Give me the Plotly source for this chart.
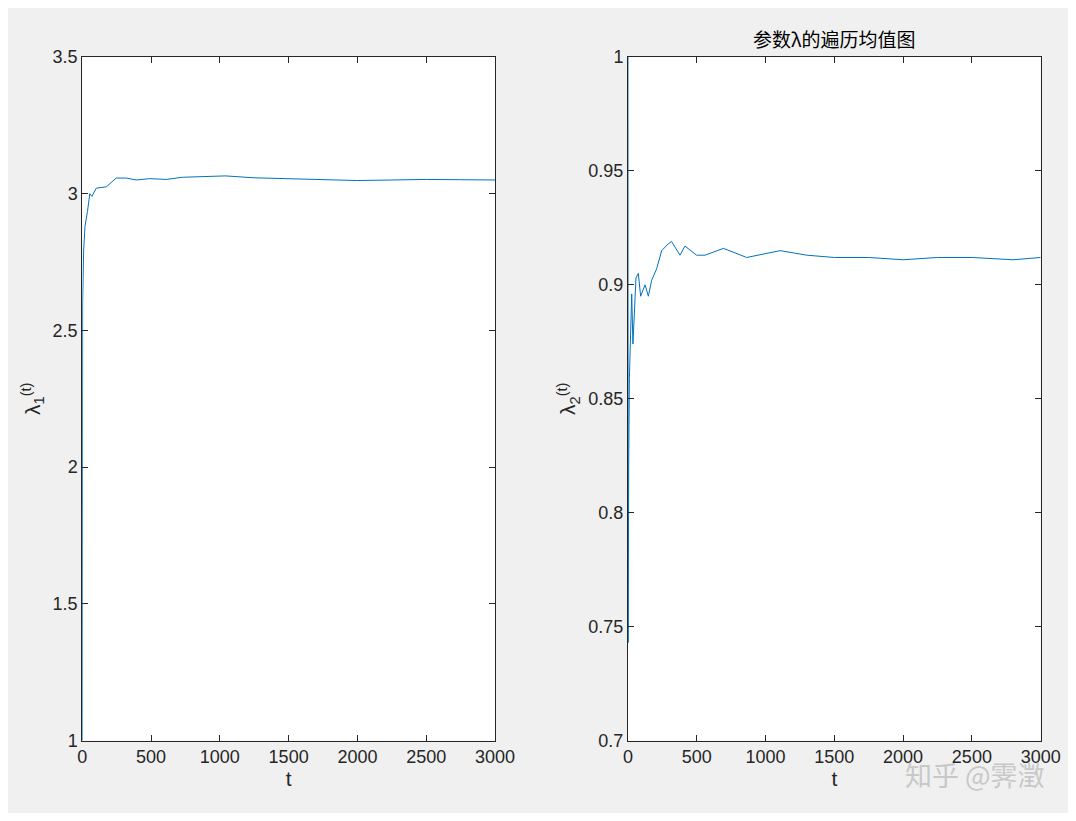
import plotly.graph_objects as go

# values
t1 = [0, 1, 3, 10, 20, 38, 55, 70, 102, 175, 247, 320, 393, 490, 610, 730, 1040, 1250, 1500, 1750, 2000, 2250, 2500, 2750, 3000]
lam1 = [1.0, 2.4, 2.6, 2.79, 2.88, 2.935, 3.0, 2.99, 3.02, 3.025, 3.057, 3.057, 3.05, 3.055, 3.052, 3.06, 3.065, 3.058, 3.055, 3.05, 3.048, 3.05, 3.052, 3.051, 3.05]

t2 = [0, 1, 5, 10, 18, 27, 36, 58, 75, 92, 124, 148, 172, 208, 245, 293, 317, 378, 414, 499, 560, 694, 863, 1106, 1300, 1500, 1750, 2000, 2250, 2500, 2800, 3000]
lam2 = [1.0, 0.743, 0.82, 0.859, 0.88, 0.896, 0.874, 0.903, 0.905, 0.895, 0.9, 0.895, 0.902, 0.907, 0.915, 0.918, 0.919, 0.913, 0.917, 0.913, 0.913, 0.916, 0.912, 0.915, 0.913, 0.912, 0.912, 0.911, 0.912, 0.912, 0.911, 0.912]

line_color = "#0072bd"
font = dict(family="Liberation Sans, Arial", size=18, color="#262626")
title_font = dict(family="Liberation Sans, Arial", size=21, color="#262626")

fig = go.Figure()
fig.add_trace(go.Scatter(x=t1, y=lam1, mode="lines", line=dict(color=line_color, width=1), xaxis="x", yaxis="y"))
fig.add_trace(go.Scatter(x=t2, y=lam2, mode="lines", line=dict(color=line_color, width=1), xaxis="x2", yaxis="y2"))

ax = dict(showline=True, mirror="ticks", linecolor="#262626", linewidth=1, ticks="inside",
          ticklen=6, tickcolor="#262626", showgrid=False, zeroline=False, tickfont=font)

fig.update_layout(
    width=1060, height=805, showlegend=False,
    paper_bgcolor="#f0f0f0", plot_bgcolor="white",
    margin=dict(l=0, r=0, t=0, b=0),
    xaxis=dict(ax, domain=[0.0669, 0.4657], range=[0, 3000], dtick=500, anchor="y",
               title=dict(text="t", font=title_font, standoff=4)),
    yaxis=dict(ax, domain=[0.0795, 0.9504], range=[1, 3.5], dtick=0.5, anchor="x",
               title=dict(text="λ<sub>1</sub><sup>(t)</sup>", font=title_font, standoff=6)),
    xaxis2=dict(ax, domain=[0.5942, 0.9929], range=[0, 3000], dtick=500, anchor="y2",
                title=dict(text="t", font=title_font, standoff=4)),
    yaxis2=dict(ax, domain=[0.0795, 0.9504], range=[0.7, 1.0], dtick=0.05, anchor="x2",
                title=dict(text="λ<sub>2</sub><sup>(t)</sup>", font=title_font, standoff=6)),
    annotations=[
        dict(text="参数λ的遍历均值图", xref="paper", yref="paper", x=0.794, y=0.9733,
             xanchor="center", yanchor="middle", showarrow=False,
             font=dict(family="Noto Sans CJK SC", size=19, color="black")),
        dict(text="知乎 @霁澂", xref="paper", yref="paper", x=0.999, y=0.036,
             xanchor="right", yanchor="middle", showarrow=False,
             font=dict(family="Noto Sans CJK SC", size=27, color="#c8c8c8")),
    ],
)

fig.write_html("out.html")
